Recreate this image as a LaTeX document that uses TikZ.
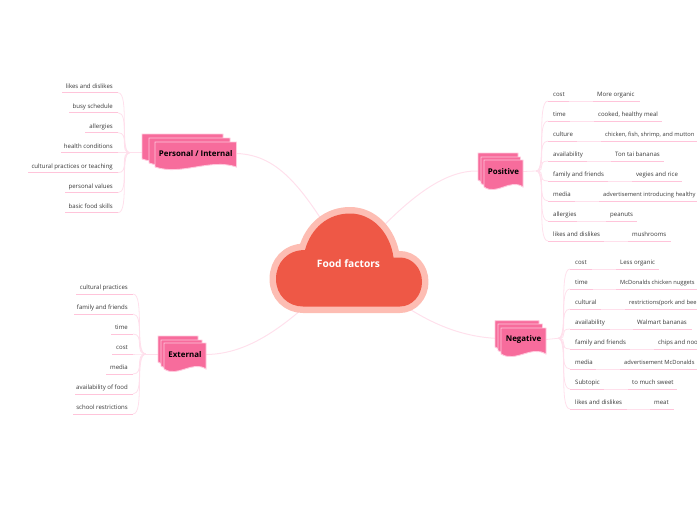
\documentclass[tikz,border=0pt]{standalone}
\usepackage{fontspec}
\setmainfont{Open Sans}
\usetikzlibrary{backgrounds}
\definecolor{topicfill}{HTML}{F76C9C}
\definecolor{topicedge}{HTML}{FFC9DD}
\definecolor{leafline}{HTML}{FFC4DA}
\definecolor{branchline}{HTML}{FFE0EC}
\definecolor{cloudin}{HTML}{EE5846}
\definecolor{cloudout}{HTML}{FDBDB3}
\newcommand\tight{\fontsize{5.75}{7}\selectfont}
\tikzset{
  leaftext/.style={font=\fontsize{6.05}{7}\selectfont, text=black!78, inner sep=0pt},
  underline/.style={draw=leafline, line width=1pt},
  branch/.style={draw=branchline, line width=0.8pt},
  mainlink/.style={draw=branchline, line width=1pt},
  topiclayer/.style={fill=topicfill, draw=topicedge, line width=0.9pt},
  topiclabel/.style={font=\bfseries\fontsize{7.9}{9}\selectfont, text=black, inner sep=0pt},
  hubpt/.style={inner sep=0pt, minimum size=0pt},
  cloudtitle/.style={font=\bfseries\fontsize{10.2}{12}\selectfont, text=white, inner sep=0pt},
}
% layer of a wavy topic: left, top, right, bottom
\newcommand\wavelayer[4]{%
  \pgfmathsetmacro\wl{#3-#1}%
  \path[topiclayer] (#1,#2) -- (#3,#2) -- (#3,#4)
    .. controls ({#3-0.33*\wl},{#4-9}) and ({#1+0.33*\wl},{#4+9}) .. (#1,#4) -- cycle;}
% left leaf: name, hub, y, left x, right x, text
\newcommand\lleaf[6]{%
  \node[leaftext, anchor=base east] (#1) at ({#5-5},{#3-4.5}) {#6};
  \coordinate (#1e) at (#5,#3);
  \draw[underline] (#4,#3) -- (#1e);
  \begin{pgfonlayer}{background}
  \draw[branch] (#2) .. controls ({#5+1},{\hubY}) and ({#5+12},#3) .. (#1e);
  \end{pgfonlayer}}
% right leaf with value: name, hub, y, right of label line, value start, value end, label, value
\newcommand\rleaf[8]{%
  \coordinate (#1s) at (\leafX,#3);
  \coordinate (#1e) at (#4,#3);
  \coordinate (#1v) at (#5,#3);
  \coordinate (#1w) at (#6,#3);
  \node[leaftext, anchor=base west] (#1) at ({\leafX+5},{#3-4.5}) {#7};
  \node[leaftext, anchor=base west] (#1t) at ({#5+4},{#3-4.5}) {#8};
  \draw[underline] (#1s) -- (#1e);
  \draw[underline] (#1v) -- (#1w);
  \begin{pgfonlayer}{background}
  \draw[branch] (#1e) -- (#1v);
  \draw[branch] (#2) .. controls ({\leafX-1},{\hubY}) and ({\leafX-12},#3) .. (#1s);
  \end{pgfonlayer}}
\begin{document}
\begin{tikzpicture}[x=1pt,y=-1pt]
\useasboundingbox (0,0) rectangle (697,520);
\clip (0,0) rectangle (697,520);

% central cloud
\def\cloudpath{(303,306.5) -- (400,306.5)
  .. controls (412.5,306.5) and (422,295) .. (422,282)
  .. controls (422,268) and (412,257.5) .. (400,257.5) -- (393.5,257.5)
  .. controls (390,232) and (372,213.5) .. (350,213.5)
  .. controls (328,213.5) and (311,228) .. (305,250)
  .. controls (287,250) and (276,263) .. (276,279)
  .. controls (276,295) and (288,306.5) .. (303,306.5) -- cycle}
\draw[cloudout, line width=13pt, line join=round] \cloudpath;
\fill[cloudin] \cloudpath;
\node[cloudtitle] (root) at (348.5,264) {Food factors};

% Personal / Internal
\wavelayer{142}{134}{223}{159}
\wavelayer{149}{138}{230}{163}
\wavelayer{155}{142}{236.5}{167}
\node[topiclabel, minimum width=81.5pt, minimum height=25pt] (personal) at (195.7,153.5) {Personal / Internal};
\coordinate (personalin) at (142,152.7);
\node[hubpt] (personalhub) at (130,152.7) {};
\def\hubY{152.7}
\lleaf{pa}{personalhub}{92.7}{62}{118}{likes and dislikes}
\lleaf{pb}{personalhub}{112.7}{69}{118}{busy schedule}
\lleaf{pc}{personalhub}{132.7}{85}{118}{allergies}
\lleaf{pd}{personalhub}{152.7}{61}{118}{health conditions}
\lleaf{pe}{personalhub}{172.7}{28}{118}{cultural practices or teaching}
\lleaf{pf}{personalhub}{192.7}{65}{118}{personal values}
\lleaf{pg}{personalhub}{212.7}{65}{118}{basic food skills}

% External
\wavelayer{158}{336}{198}{362}
\wavelayer{161}{340}{202}{366}
\wavelayer{164}{343}{206}{369}
\node[topiclabel, minimum width=42pt, minimum height=26pt] (external) at (185,354.5) {External};
\coordinate (externalin) at (158,354);
\node[hubpt] (externalhub) at (146,354) {};
\def\hubY{354}
\lleaf{ea}{externalhub}{294}{76}{133}{cultural practices}
\lleaf{eb}{externalhub}{314}{74}{133}{family and friends}
\lleaf{ec}{externalhub}{334}{111}{133}{time}
\lleaf{ed}{externalhub}{354}{112}{133}{cost}
\lleaf{ee}{externalhub}{374}{106}{133}{media}
\lleaf{ef}{externalhub}{394}{75}{133}{availability of food}
\lleaf{eg}{externalhub}{414}{73}{133}{school restrictions}

% Positive
\wavelayer{478}{153}{518}{180}
\wavelayer{481}{157}{520.5}{183.5}
\wavelayer{484}{160}{523}{187}
\node[topiclabel, minimum width=39pt, minimum height=27pt] (positive) at (503.5,171.5) {Positive};
\coordinate (positivein) at (478,171);
\node[hubpt] (positivehub) at (536,171) {};
\def\hubY{171}
\def\leafX{548}
\rleaf{qa}{positivehub}{101}{569}{593}{640}{cost}{More organic}
\rleaf{qb}{positivehub}{121}{570}{594}{662}{time}{cooked, healthy meal}
\rleaf{qc}{positivehub}{141}{577}{601}{697}{culture}{\tight chicken, fish, shrimp, and mutton}
\rleaf{qd}{positivehub}{161}{587}{611}{664}{availability}{Ton tai bananas}
\rleaf{qe}{positivehub}{181}{608}{632}{682}{family and friends}{vegies and rice}
\rleaf{qf}{positivehub}{201}{575}{599}{697}{media}{\tight advertisement introducing healthy}
\rleaf{qg}{positivehub}{221}{577}{606}{637}{allergies}{peanuts}
\rleaf{qh}{positivehub}{241}{604}{628}{671}{likes and dislikes}{mushrooms}

% Negative
\wavelayer{495}{320.7}{539}{347}
\wavelayer{498}{324}{542.5}{350.5}
\wavelayer{501}{328}{546}{354}
\node[topiclabel, minimum width=45pt, minimum height=26pt] (negative) at (523.5,339.5) {Negative};
\coordinate (negativein) at (495,338.3);
\node[hubpt] (negativehub) at (558,338.3) {};
\def\hubY{338.3}
\def\leafX{570}
\rleaf{na}{negativehub}{269}{592}{616}{659}{cost}{Less organic}
\rleaf{nb}{negativehub}{289}{593}{616}{697}{time}{\tight McDonalds chicken nuggets}
\rleaf{nc}{negativehub}{309}{601}{625}{697}{cultural}{\tight restrictions(pork and bee}
\rleaf{nd}{negativehub}{329}{610}{633}{692}{availability}{Walmart bananas}
\rleaf{ne}{negativehub}{349}{630}{654}{697}{family and friends}{chips and noo}
\rleaf{nf}{negativehub}{369}{596}{620}{697}{media}{\tight advertisement McDonalds}
\rleaf{ng}{negativehub}{389}{604}{628}{677}{Subtopic}{to much sweet}
\rleaf{nh}{negativehub}{409}{627}{650}{674}{likes and dislikes}{meat}

\begin{pgfonlayer}{background}
\draw[mainlink] (root) .. controls (305,190) and (280,155) .. (personal.east);
\draw[mainlink] (root) .. controls (400,205) and (440,170) .. (positivein);
\draw[mainlink] (root) .. controls (290,325) and (250,354) .. (external.east);
\draw[mainlink] (root) .. controls (400,305) and (440,335) .. (negativein);
\draw[branch] (personalin) -- (personalhub);
\draw[branch] (externalin) -- (externalhub);
\draw[branch] (positive.east) -- (positivehub);
\draw[branch] (negative.east) -- (negativehub);
\end{pgfonlayer}
\end{tikzpicture}
\end{document}
